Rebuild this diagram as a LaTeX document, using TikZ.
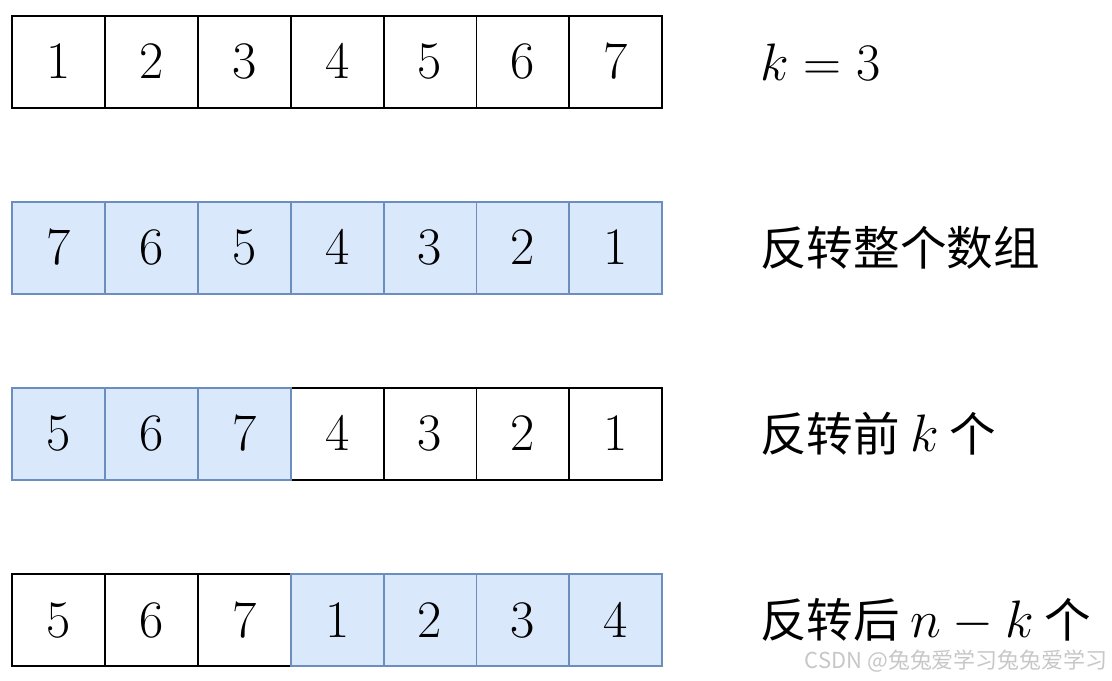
\RequirePackage{fix-cm}
\documentclass[tikz,border=0pt]{standalone}
\usepackage{fontspec}
\newfontfamily\cjk{Noto Sans CJK SC}
\definecolor{cellblue}{HTML}{DAE8FC}
\definecolor{edgeblue}{HTML}{6C8EBF}

\tikzset{
  cell/.style={draw=black,line width=1.1pt,minimum width=1.858cm,minimum height=1.84cm,inner sep=0pt,fill=white,font=\fontsize{30}{30}\selectfont},
  bluecell/.style={cell,draw=edgeblue,fill=cellblue},
  rowtext/.style={anchor=west,inner sep=0pt,font=\fontsize{26.5}{30}\selectfont\cjk}
}

\begin{document}
\begin{tikzpicture}[x=0.02cm,y=-0.02cm]
\useasboundingbox (0,0) rectangle (1112,680);

% k = 3
\foreach \i/\v in {1/1,2/2,3/3,4/4,5/5,6/6,7/7}
  \node[cell] (a\i) at ({12+92.9*(\i-0.5)},62) {$\v$};
\node[rowtext,font=\fontsize{30}{30}\selectfont] (ta) at (760,62) {$k=3$};

% reverse all
\foreach \i/\v in {1/7,2/6,3/5,4/4,5/3,6/2,7/1}
  \node[bluecell] (b\i) at ({12+92.9*(\i-0.5)},248) {$\v$};
\node[rowtext] (tb) at (760,248) {反转整个数组};

% reverse first k
\foreach \i/\v in {4/4,5/3,6/2,7/1}
  \node[cell] (c\i) at ({12+92.9*(\i-0.5)},434) {$\v$};
\foreach \i/\v in {1/5,2/6,3/7}
  \node[bluecell] (c\i) at ({12+92.9*(\i-0.5)},434) {$\v$};
\node[rowtext] (tc) at (760,434) {反转前 {\fontsize{30}{30}\selectfont$k$} 个};

% reverse last n-k
\foreach \i/\v in {1/5,2/6,3/7}
  \node[cell] (d\i) at ({12+92.9*(\i-0.5)},620) {$\v$};
\foreach \i/\v in {4/1,5/2,6/3,7/4}
  \node[bluecell] (d\i) at ({12+92.9*(\i-0.5)},620) {$\v$};
\node[rowtext] (td) at (760,620) {反转后 {\fontsize{30}{30}\selectfont$n-k$} 个};

\node[anchor=east,inner sep=0pt,text=black!22,font=\fontsize{12.5}{14}\selectfont\cjk] (wm) at (1108,661) {CSDN @兔兔爱学习兔兔爱学习};
\end{tikzpicture}
\end{document}
